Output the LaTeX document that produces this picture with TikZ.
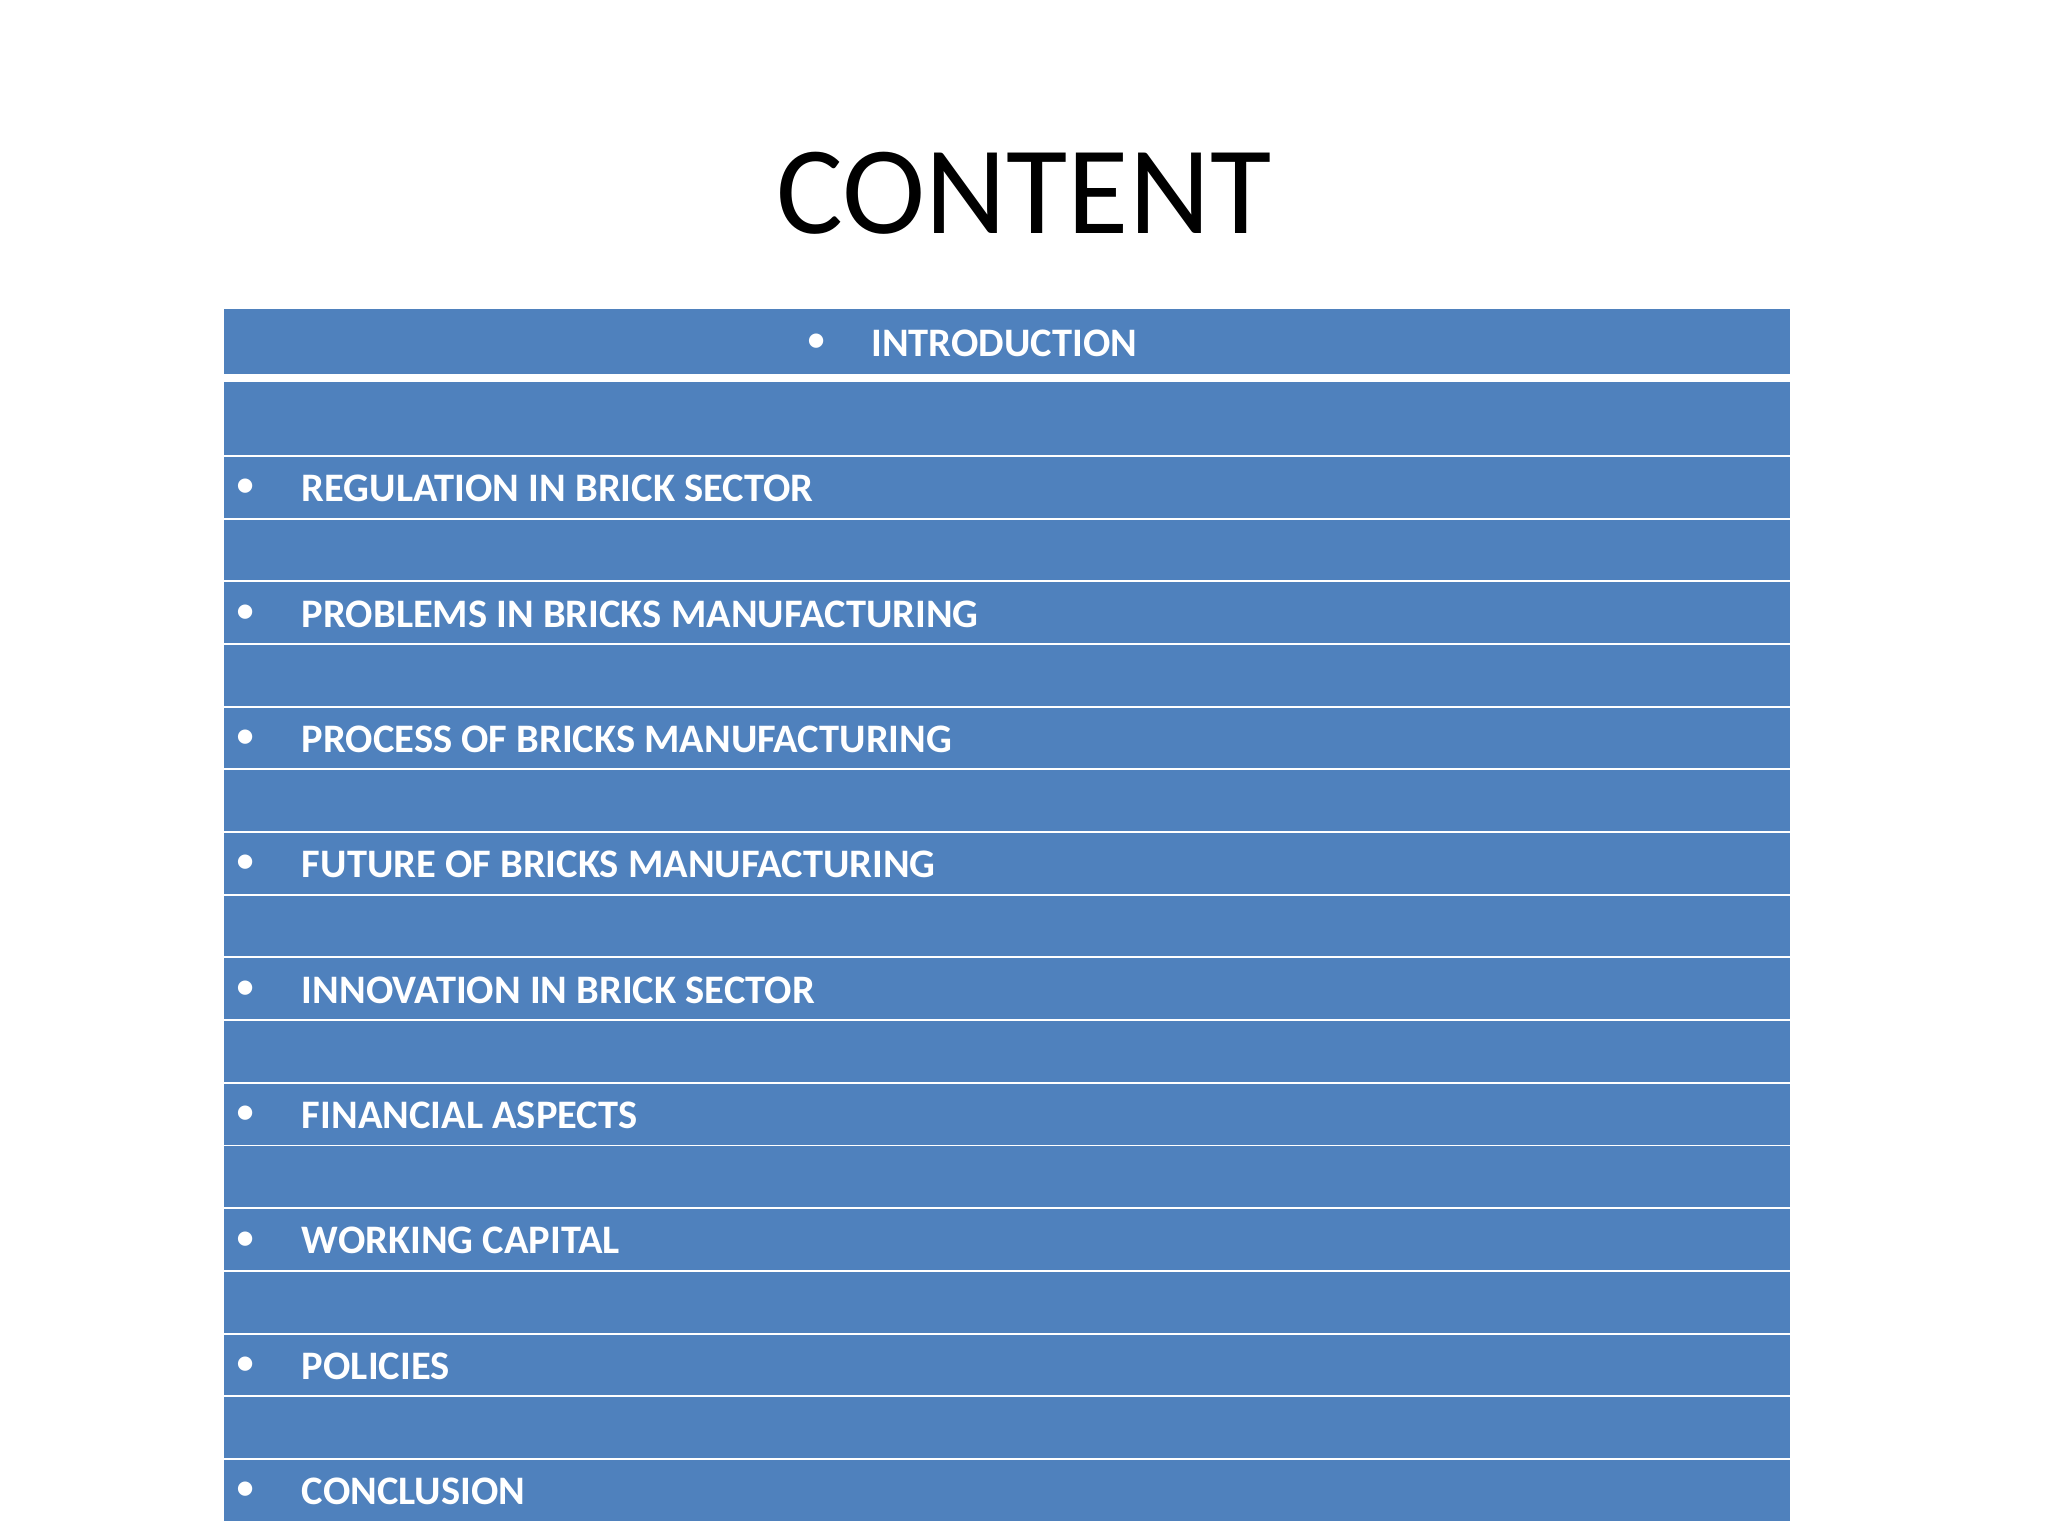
\documentclass[tikz,border=0pt]{standalone}
\usepackage{fontspec}
\setmainfont{Carlito}
\definecolor{rowblue}{HTML}{4F81BD}
\begin{document}
\begin{tikzpicture}[x=1pt,y=-1pt,
  rowbox/.style={fill=rowblue,draw=white,line width=1.5pt},
  itemtext/.style={anchor=west,text=white,font=\fontsize{31}{36}\selectfont\bfseries,inner sep=0pt},
  bul/.style={text=white,font=\fontsize{31}{36}\selectfont,inner sep=0pt}]
\useasboundingbox[fill=white] (0,0) rectangle (1568,1176);
\node[font=\fontsize{96}{110}\selectfont,inner sep=0pt] (title) at (784,148) {CONTENT};
\draw[rowbox] (171,236) rectangle (1371,287);
\node[bul] (hb) at (625,263) {•};
\node[itemtext] (h) at (667,263) {INTRODUCTION};
\draw[rowbox] (171,292) rectangle (1371,349);
\foreach \i in {0,...,16}{
  \draw[rowbox] (171,349+48*\i) rectangle (1371,397+48*\i);
}
\foreach \t [count=\k from 0] in {REGULATION IN BRICK SECTOR,PROBLEMS IN BRICKS MANUFACTURING,PROCESS OF BRICKS MANUFACTURING,FUTURE OF BRICKS MANUFACTURING,INNOVATION IN BRICK SECTOR,FINANCIAL ASPECTS,WORKING CAPITAL,POLICIES,CONCLUSION}{
  \node[bul] (b\k) at (188,374+96*\k) {•};
  \node[itemtext] (t\k) at (231,374+96*\k) {\t};
}
\end{tikzpicture}
\end{document}
